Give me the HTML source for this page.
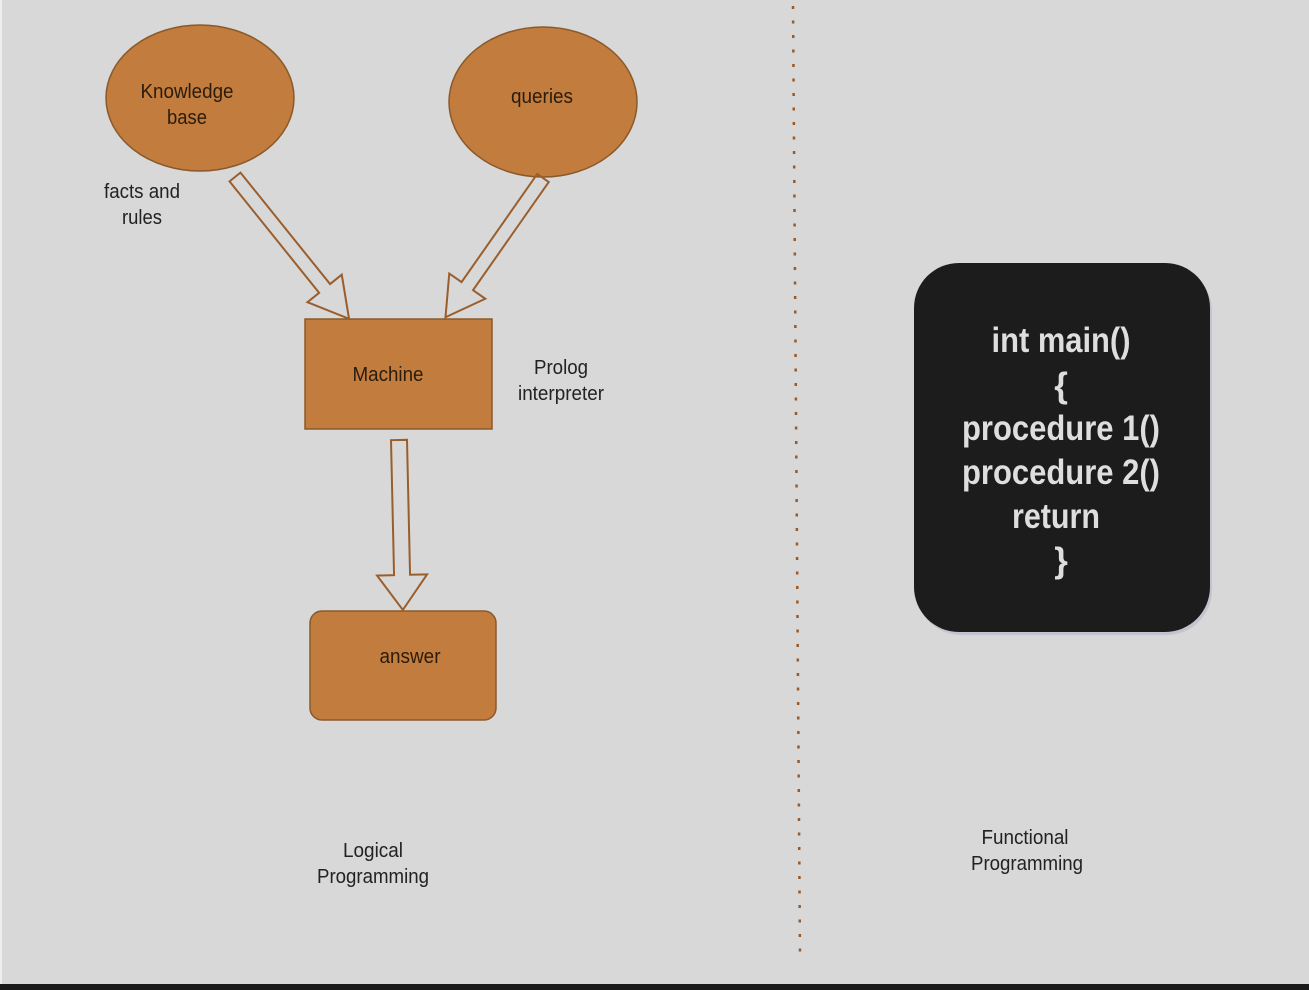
<!DOCTYPE html>
<html><head><meta charset="utf-8"><style>
html,body{margin:0;padding:0;background:#d8d8d8;}
svg{display:block;}
text{font-family:"Liberation Sans Narrow","Liberation Sans",sans-serif;}
</style></head><body>
<svg width="1309" height="990" viewBox="0 0 1309 990" xmlns="http://www.w3.org/2000/svg">
<rect x="0" y="0" width="1309" height="990" fill="#d8d8d8"/>
<rect x="0" y="0" width="2" height="990" fill="#eeeeee"/>
<rect x="0" y="984" width="1309" height="6" fill="#1a1a1a"/>
<line x1="793" y1="6" x2="800" y2="955" stroke="#9a5a28" stroke-width="2.5" stroke-dasharray="3,11.5"/>

<ellipse cx="200" cy="98" rx="94" ry="73" fill="#c27c3e" stroke="#8a5a2a" stroke-width="1.5"/>
<ellipse cx="543" cy="102" rx="94" ry="75" fill="#c27c3e" stroke="#8a5a2a" stroke-width="1.5"/>
<rect x="305" y="319" width="187" height="110" fill="#c27c3e" stroke="#8a5a2a" stroke-width="1.5"/>
<rect x="310" y="611" width="186" height="109" rx="12" fill="#c27c3e" stroke="#8a5a2a" stroke-width="1.5"/>

<g fill="none" stroke="#9a5e2c" stroke-width="2">
<polygon transform="translate(235,177) rotate(51.2)" points="0,-7 143,-7 143,-22 182,0 143,22 143,7 0,7"/>
<polygon transform="translate(543,178) rotate(125)" points="0,-7 132,-7 132,-22 170,0 132,22 132,7 0,7"/>
<polygon transform="translate(399,440) rotate(88.7)" points="0,-8 135,-8 135,-25 170,0 135,25 135,8 0,8"/>
</g>

<g font-size="20" fill="#2a1c0c" text-anchor="middle" lengthAdjust="spacingAndGlyphs">
<text x="187" y="98" textLength="93" lengthAdjust="spacingAndGlyphs">Knowledge</text>
<text x="187" y="124" textLength="40" lengthAdjust="spacingAndGlyphs">base</text>
<text x="542" y="103" textLength="62" lengthAdjust="spacingAndGlyphs">queries</text>
<text x="388" y="381" textLength="71" lengthAdjust="spacingAndGlyphs">Machine</text>
<text x="410" y="663" textLength="61" lengthAdjust="spacingAndGlyphs">answer</text>
</g>
<g font-size="20" fill="#222" text-anchor="middle">
<text x="142" y="198" textLength="76" lengthAdjust="spacingAndGlyphs">facts and</text>
<text x="142" y="224" textLength="40" lengthAdjust="spacingAndGlyphs">rules</text>
<text x="561" y="374" textLength="54" lengthAdjust="spacingAndGlyphs">Prolog</text>
<text x="561" y="400" textLength="86" lengthAdjust="spacingAndGlyphs">interpreter</text>
<text x="373" y="857" textLength="60" lengthAdjust="spacingAndGlyphs">Logical</text>
<text x="373" y="883" textLength="112" lengthAdjust="spacingAndGlyphs">Programming</text>
<text x="1025" y="844" textLength="87" lengthAdjust="spacingAndGlyphs">Functional</text>
<text x="1027" y="870" textLength="112" lengthAdjust="spacingAndGlyphs">Programming</text>
</g>

<rect x="916" y="266" width="296" height="369" rx="45" fill="#b8b8c8" opacity="0.6"/>
<rect x="914" y="263" width="296" height="369" rx="45" fill="#1c1c1c"/>
<g font-size="35" font-weight="bold" fill="#dedede" text-anchor="middle">
<text x="1061" y="352" textLength="139" lengthAdjust="spacingAndGlyphs">int main()</text>
<text x="1061" y="397">{</text>
<text x="1061" y="440" textLength="198" lengthAdjust="spacingAndGlyphs">procedure 1()</text>
<text x="1061" y="484" textLength="198" lengthAdjust="spacingAndGlyphs">procedure 2()</text>
<text x="1056" y="528" textLength="88" lengthAdjust="spacingAndGlyphs">return</text>
<text x="1061" y="572">}</text>
</g>
</svg>
</body></html>
